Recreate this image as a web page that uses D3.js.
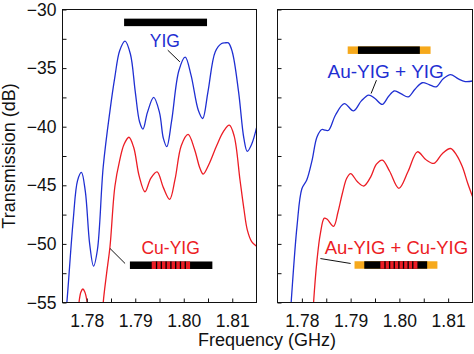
<!DOCTYPE html>
<html>
<head>
<meta charset="utf-8">
<script src="https://cdn.jsdelivr.net/npm/d3@7"></script>
<style>
  body { margin: 0; background: #fff; }
  text { font-family: "Liberation Sans", Arial, sans-serif; }
</style>
</head>
<body>
<svg id="chart" width="474" height="354"></svg>
<script>
// frequency (GHz) / transmission (dB)
const YIG_FREQ = [1.7752, 1.7759, 1.7772, 1.7781, 1.7789, 1.7797, 1.7806, 1.7814, 1.7822, 1.7834,
  1.7848, 1.7858, 1.7868, 1.7879, 1.789, 1.79, 1.7909, 1.7916, 1.7925, 1.7938, 1.795, 1.7958,
  1.7965, 1.7975, 1.799, 1.8003, 1.8015, 1.803, 1.8039, 1.805, 1.8065, 1.8078, 1.8085, 1.8092,
  1.81, 1.8113, 1.8124, 1.8131, 1.814, 1.815];
const YIG_DB = [-58, -55, -48, -44.6, -43.9, -45.5, -50, -51.9, -50.5, -43.4,
  -38.6, -35.75, -33.5, -32.7, -33.8, -37, -39.6, -40.2, -38.8, -37.5, -38.8, -41,
  -41.7, -39.5, -35.2, -34.06, -35.6, -38.6, -39.3, -37, -33.6, -32.9, -32.85, -32.85,
  -33.6, -37, -41, -42.1, -41.5, -40.1];

const CUYIG_FREQ = [1.7778, 1.7784, 1.7788, 1.7792, 1.7796, 1.7801, 1.7808, 1.7822, 1.783, 1.7834,
  1.7841, 1.7848, 1.7858, 1.7868, 1.7877, 1.7887, 1.7897, 1.7908, 1.792, 1.7932, 1.7945,
  1.7958, 1.7971, 1.7982, 1.7995, 1.8009, 1.8022, 1.8033, 1.804, 1.8052, 1.8068, 1.8082,
  1.8094, 1.8104, 1.8116, 1.8124, 1.8131, 1.814, 1.815];
const CUYIG_DB = [-58, -55, -54.1, -53.85, -54.1, -55, -58, -61, -58, -55,
  -52.5, -50.2, -45.1, -42.85, -41.5, -40.9, -41.8, -44.2, -45.55, -44.4, -43.85,
  -45.2, -46.2, -44.5, -41.6, -40.66, -41.9, -43.5, -44.04, -43.2, -41.6, -40.4,
  -39.87, -40.8, -44.55, -47, -48.8, -49.8, -50.2];

const AUYIG_FREQ = [1.777, 1.7778, 1.779, 1.78, 1.781, 1.7821, 1.7831, 1.7841, 1.7848, 1.7855,
  1.7869, 1.7887, 1.7906, 1.7922, 1.7937, 1.795, 1.7965, 1.7978, 1.799, 1.8004, 1.8018,
  1.8032, 1.8047, 1.8061, 1.8075, 1.809, 1.8105, 1.812, 1.8135, 1.815];
const AUYIG_DB = [-60, -55, -48.5, -45.3, -44.55, -42.85, -40.87, -40.24, -40.3, -40.3,
  -39, -38.03, -38.65, -37.8, -37.3, -37.6, -38.1, -37.4, -36.95, -37.2, -37.45,
  -36.8, -36.25, -36.4, -36.6, -35.9, -35.55, -35.9, -36.15, -36.1];

const AUCU_FREQ = [1.7815, 1.7824, 1.7831, 1.7838, 1.7846, 1.7852, 1.7865, 1.7874, 1.7883, 1.7892,
  1.79, 1.7914, 1.7927, 1.7941, 1.7953, 1.7965, 1.798, 1.7999, 1.8018, 1.8037, 1.8054,
  1.8071, 1.8088, 1.8105, 1.8117, 1.8129, 1.814, 1.815];
const AUCU_DB = [-62, -55, -51.4, -49.1, -47.8, -47.9, -48.5, -47.3, -45.7, -44.4,
  -44, -44.7, -45.06, -44.3, -43.2, -42.85, -43.8, -45.26, -43.8, -42.14, -42.8,
  -43.13, -42.3, -41.86, -42.4, -43.4, -44.8, -45.96];

const X_DOMAIN = [1.775, 1.815];
const Y_DOMAIN = [-55, -30];
const X_TICKS = [1.78, 1.785, 1.79, 1.795, 1.8, 1.805, 1.81];
const X_TICK_LABELS = ["1.78", "", "1.79", "", "1.80", "", "1.81"];
const Y_TICKS = [-55, -52.5, -50, -47.5, -45, -42.5, -40, -37.5, -35, -32.5, -30];
const Y_TICK_LABELS = ["\u221255", "", "\u221250", "", "\u221245", "", "\u221240", "", "\u221235", "", "\u221230"];

const BLUE = "#1f2fd2";
const RED = "#ec1c24";
const ORANGE = "#f6a91c";

const svg = d3.select("#chart");
const y = d3.scaleLinear().domain(Y_DOMAIN).range([302.5, 9.5]);

const panels = [
  {
    id: "a", left: 62.5, right: 256.5, labels: true,
    series: [
      { f: YIG_FREQ, v: YIG_DB, color: BLUE },
      { f: CUYIG_FREQ, v: CUYIG_DB, color: RED },
    ],
  },
  {
    id: "b", left: 277.5, right: 472.5, labels: false,
    series: [
      { f: AUYIG_FREQ, v: AUYIG_DB, color: BLUE },
      { f: AUCU_FREQ, v: AUCU_DB, color: RED },
    ],
  },
];

const scales = panels.map((p) => {
  const x = d3.scaleLinear().domain(X_DOMAIN).range([p.left, p.right]);
  const g = svg.append("g");

  svg.append("clipPath").attr("id", "clip-" + p.id)
    .append("rect")
    .attr("x", p.left).attr("y", y(-30))
    .attr("width", p.right - p.left).attr("height", y(-55) - y(-30));

  const line = d3.line().curve(d3.curveCatmullRom.alpha(0.5))
    .x((d) => x(d[0])).y((d) => y(d[1]));

  p.series.forEach((s) => {
    g.append("path")
      .datum(s.f.map((f, i) => [f, s.v[i]]))
      .attr("clip-path", `url(#clip-${p.id})`)
      .attr("fill", "none")
      .attr("stroke", s.color)
      .attr("stroke-width", 1.3)
      .attr("d", line);
  });

  const xAxis = g.append("g")
    .attr("transform", `translate(0,${y(-55)})`)
    .call(d3.axisBottom(x).tickValues(X_TICKS).tickSize(-4).tickPadding(12)
      .tickFormat((d, i) => X_TICK_LABELS[i]));
  const yAxis = g.append("g")
    .attr("transform", `translate(${p.left},0)`)
    .call(d3.axisLeft(y).tickValues(Y_TICKS).tickSize(-4).tickPadding(6)
      .tickFormat((d, i) => (p.labels ? Y_TICK_LABELS[i] : "")));

  [xAxis, yAxis].forEach((a) => {
    a.select(".domain").remove();
    a.selectAll("line").attr("stroke", "#111");
    a.selectAll("text").attr("fill", "#111").style("font-size", "17.5px")
      .style("font-family", '"Liberation Sans", Arial, sans-serif');
  });

  g.append("rect")
    .attr("x", p.left).attr("y", y(-30))
    .attr("width", p.right - p.left).attr("height", y(-55) - y(-30))
    .attr("fill", "none").attr("stroke", "#111").attr("stroke-width", 1);

  return x;
});

// sample sketches and labels, placed in data units
const BAR_H = 7.5;
function bar(x, f0, f1, v, color) {
  svg.append("rect")
    .attr("x", x(f0)).attr("y", y(v) - BAR_H / 2)
    .attr("width", x(f1) - x(f0)).attr("height", BAR_H)
    .attr("fill", color);
}
function stripes(x, f0, f1, v, n) {
  bar(x, f0, f1, v, RED);
  const step = (x(f1) - x(f0)) / n;
  for (let i = 1; i < n; i++) {
    svg.append("rect")
      .attr("x", x(f0) + i * step - 0.65).attr("y", y(v) - BAR_H / 2)
      .attr("width", 1.3).attr("height", BAR_H).attr("fill", "#000");
  }
}
function label(x, f, v, txt, color, size) {
  svg.append("text")
    .attr("x", x(f)).attr("y", y(v))
    .attr("text-anchor", "middle")
    .attr("fill", color)
    .style("font-size", size + "px")
    .text(txt);
}
function leader(x, f0, v0, f1, v1) {
  svg.append("line")
    .attr("x1", x(f0)).attr("y1", y(v0))
    .attr("x2", x(f1)).attr("y2", y(v1))
    .attr("stroke", "#111").attr("stroke-width", 1);
}

const [xa, xb] = scales;

bar(xa, 1.7877, 1.8048, -31.1, "#000");
label(xa, 1.7961, -33.2, "YIG", BLUE, 17.5);
leader(xa, 1.7967, -33.47, 1.7992, -34.47);

bar(xa, 1.7889, 1.8059, -51.82, "#000");
stripes(xa, 1.7934, 1.8013, -51.82, 8);
label(xa, 1.7973, -50.9, "Cu-YIG", RED, 17.5);
leader(xa, 1.7848, -50.39, 1.7879, -51.67);

bar(xb, 1.7894, 1.8064, -33.47, ORANGE);
bar(xb, 1.7915, 1.8042, -33.47, "#000");
label(xb, 1.7972, -35.84, "Au-YIG + YIG", BLUE, 19);
leader(xb, 1.7953, -36.03, 1.7942, -37.17);

bar(xb, 1.7908, 1.8078, -51.8, ORANGE);
bar(xb, 1.7928, 1.8057, -51.8, "#000");
stripes(xb, 1.7961, 1.8037, -51.8, 8);
label(xb, 1.7994, -50.9, "Au-YIG + Cu-YIG", RED, 18.5);
leader(xb, 1.7838, -51.25, 1.79, -51.67);

svg.append("text")
  .attr("x", 267).attr("y", 346)
  .attr("text-anchor", "middle")
  .attr("fill", "#111")
  .style("font-size", "18px")
  .text("Frequency (GHz)");

svg.append("text")
  .attr("transform", `translate(15,${(y(-30) + y(-55)) / 2}) rotate(-90)`)
  .attr("text-anchor", "middle")
  .attr("fill", "#111")
  .style("font-size", "18px")
  .text("Transmission (dB)");
</script>
</body>
</html>
